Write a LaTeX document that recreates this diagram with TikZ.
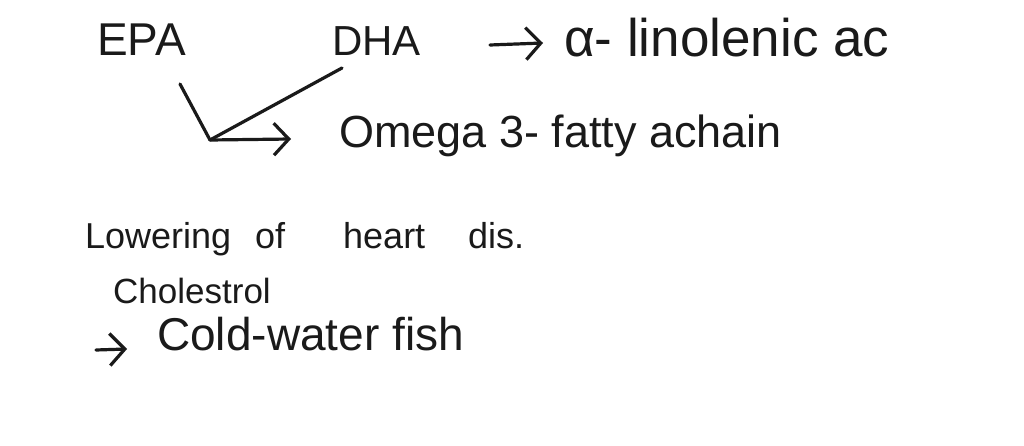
\documentclass[tikz,border=0pt]{standalone}
\usepackage{fontspec}
\setmainfont{Liberation Sans}
\usetikzlibrary{arrows.meta}
\definecolor{ink}{HTML}{1A1A1A}
\tikzset{
  hw/.style={inner sep=0pt, anchor=base west, text=ink},
  pen/.style={draw=ink, line width=3.2pt, line cap=round, line join=round},
  penarrow/.style={pen, -{Straight Barb[length=15pt,width=32pt,line width=3.2pt]}}
}
\newcommand{\fs}[1]{\fontsize{#1}{#1}\selectfont}
\begin{document}
\begin{tikzpicture}[x=1pt,y=-1pt]
\useasboundingbox[fill=white] (0,0) rectangle (1024,446);
% top row
\node[hw,font=\fs{46}] (epa) at (97,56) {EPA};
\node[hw,font=\fs{42}] (dha) at (332,56) {DHA};
\node[hw,font=\fs{53}] (lin) at (564,57) {α- linolenic ac};
\coordinate (a1s) at (490,45);
\coordinate (a1e) at (543,43);
\draw[penarrow] (a1s) -- (a1e);
% omega row
\node[hw,font=\fs{45}] (omega) at (339,148) {Omega 3- fatty achain};
\coordinate (epaend) at (180,84);
\coordinate (corner) at (210,140);
\coordinate (omarrow) at (291,139);
\coordinate (dhaend) at (342,68);
\draw[penarrow] (epaend) -- (corner) -- (omarrow);
\draw[pen] (corner) -- (dhaend);
% lower notes
\node[hw,font=\fs{36}] (w1) at (85,248) {Lowering};
\node[hw,font=\fs{36}] (w2) at (255,248) {of};
\node[hw,font=\fs{36}] (w3) at (343,248) {heart};
\node[hw,font=\fs{36}] (w4) at (468,248) {dis.};
\node[hw,font=\fs{35}] (chol) at (113,303) {Cholestrol};
\coordinate (a2s) at (96,350);
\coordinate (a2e) at (127,349);
\draw[penarrow] (a2s) -- (a2e);
\node[hw,font=\fs{46}] (fish) at (157,350) {Cold-water fish};
\end{tikzpicture}
\end{document}
